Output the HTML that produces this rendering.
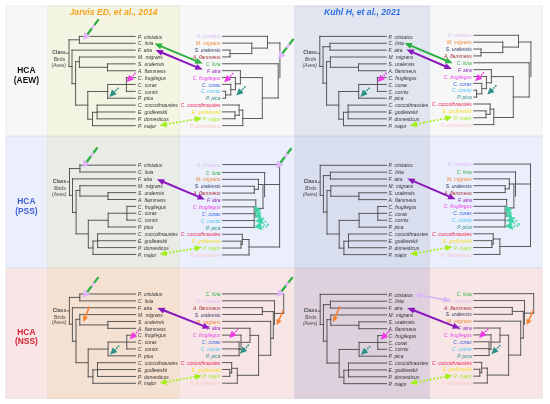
<!DOCTYPE html>
<html lang="en"><head><meta charset="utf-8"><title>HCA vs reference phylogenies</title>
<style>html,body{margin:0;padding:0;background:#fff}body{width:550px;height:404px;overflow:hidden}svg{display:block}text{font-family:"Liberation Sans",Arial,sans-serif}.sp{font-style:italic;font-size:4.9px;word-spacing:.5px}.sr{font-style:italic;font-size:4.98px;text-anchor:end}.cl{font-size:5.05px;fill:#4a4a4a}.hd{font-weight:bold;font-style:italic;font-size:8.67px}.rl{font-weight:bold;font-size:8.4px;text-anchor:middle}</style></head><body>
<svg width="550" height="404" viewBox="0 0 550 404">
<rect width="550" height="404" fill="#fff"/>
<rect x="5.50" y="5.50" width="41.70" height="130.50" fill="#f7f7f7"/>
<rect x="47.20" y="5.50" width="132.60" height="130.50" fill="#f4f4e3"/>
<rect x="179.80" y="5.50" width="114.60" height="130.50" fill="#f7f7f7"/>
<rect x="294.40" y="5.50" width="135.40" height="130.50" fill="#e1e5f0"/>
<rect x="429.80" y="5.50" width="112.70" height="130.50" fill="#f7f7f7"/>
<rect x="5.50" y="136.00" width="41.70" height="132.00" fill="#ebeefb"/>
<rect x="47.20" y="136.00" width="132.60" height="132.00" fill="#e9ebe5"/>
<rect x="179.80" y="136.00" width="114.60" height="132.00" fill="#ebeefb"/>
<rect x="294.40" y="136.00" width="135.40" height="132.00" fill="#d9deef"/>
<rect x="429.80" y="136.00" width="112.70" height="132.00" fill="#ebeefb"/>
<rect x="5.50" y="268.00" width="41.70" height="130.70" fill="#f8e6e7"/>
<rect x="47.20" y="268.00" width="132.60" height="130.70" fill="#f5e1d2"/>
<rect x="179.80" y="268.00" width="114.60" height="130.70" fill="#f8e6e7"/>
<rect x="294.40" y="268.00" width="135.40" height="130.70" fill="#ded1dd"/>
<rect x="429.80" y="268.00" width="112.70" height="130.70" fill="#f8e6e7"/>
<rect x="6.00" y="6.00" width="536.00" height="129.50" fill="none" stroke="#50506a" stroke-opacity="0.06" stroke-width="1"/>
<rect x="6.00" y="136.50" width="536.00" height="131.00" fill="none" stroke="#50506a" stroke-opacity="0.06" stroke-width="1"/>
<rect x="6.00" y="268.50" width="536.00" height="129.70" fill="none" stroke="#50506a" stroke-opacity="0.06" stroke-width="1"/>
<rect x="47.50" y="6.00" width="132.00" height="392.20" fill="none" stroke="#50506a" stroke-opacity="0.05" stroke-width="1"/>
<rect x="294.70" y="6.00" width="134.80" height="392.20" fill="none" stroke="#50506a" stroke-opacity="0.05" stroke-width="1"/>
<text class="hd" x="113.6" y="15.2" text-anchor="middle" fill="#f6a21e">Jarvis ED, et al., 2014</text>
<text class="hd" x="362.3" y="15.2" text-anchor="middle" fill="#2f6fe6">Kuhl H, et al., 2021</text>
<text class="rl" x="26.4" y="72.7" fill="#111">HCA</text>
<text class="rl" x="26.4" y="82.6" fill="#111">(AEW)</text>
<text class="rl" x="26.4" y="203.8" fill="#3f5fd8">HCA</text>
<text class="rl" x="26.4" y="213.7" fill="#3f5fd8">(PSS)</text>
<text class="rl" x="26.4" y="334.5" fill="#d3202f">HCA</text>
<text class="rl" x="26.4" y="344.4" fill="#d3202f">(NSS)</text>
<path d="M69.00 39.80L69.00 66.60M69.00 39.80L79.40 39.80M79.40 36.40L79.40 43.27M79.40 36.40L135.20 36.40M79.40 43.27L135.20 43.27M69.00 66.60L72.00 66.60M72.00 50.14L72.00 83.70M72.00 50.14L135.20 50.14M72.00 83.70L75.60 83.70M75.60 61.70L75.60 105.10M75.60 61.70L79.40 61.70M79.40 57.01L79.40 67.31M79.40 57.01L135.20 57.01M79.40 67.31L107.50 67.31M107.50 63.88L107.50 70.75M107.50 63.88L135.20 63.88M107.50 70.75L135.20 70.75M75.60 105.10L87.80 105.10M87.80 91.50L87.80 119.20M87.80 91.50L107.70 91.50M107.70 84.49L107.70 98.23M107.70 84.49L135.20 84.49M107.70 98.23L135.20 98.23M126.40 77.62L126.40 91.36M126.40 77.62L135.20 77.62M126.40 91.36L135.20 91.36M87.80 119.20L92.50 119.20M92.50 112.30L92.50 125.71M92.50 125.71L135.20 125.71M92.50 112.30L97.10 112.30M97.10 105.10L97.10 118.84M97.10 105.10L135.20 105.10M97.10 111.97L135.20 111.97M97.10 118.84L135.20 118.84" stroke="#484848" stroke-width="0.9" fill="none" stroke-linecap="square"/>
<path d="M222.60 36.30L267.50 36.30M267.50 36.30L267.50 48.10M267.50 43.00L279.90 43.00M279.90 43.00L279.90 77.60M222.60 43.17L251.80 43.17M251.80 43.17L251.80 53.60M251.80 48.10L267.50 48.10M222.60 50.04L230.00 50.04M222.60 56.91L230.00 56.91M230.00 50.04L230.00 56.91M230.00 53.60L251.80 53.60M222.60 63.78L278.20 63.78M278.20 63.78L278.20 98.00M262.30 98.00L278.20 98.00M262.30 77.60L262.30 118.50M222.60 70.65L240.40 70.65M240.40 70.65L240.40 83.80M240.40 77.60L262.30 77.60M222.60 77.52L235.40 77.52M235.40 77.52L235.40 89.70M235.40 83.80L240.40 83.80M222.60 84.39L230.80 84.39M230.80 84.39L230.80 94.90M230.80 89.70L235.40 89.70M222.60 91.26L225.60 91.26M222.60 98.13L225.60 98.13M225.60 91.26L225.60 98.13M225.60 94.90L230.80 94.90M222.60 105.00L239.10 105.00M239.10 105.00L239.10 115.30M239.10 110.10L242.80 110.10M242.80 110.10L242.80 125.61M222.60 125.61L242.80 125.61M242.80 118.50L262.30 118.50M222.60 111.87L235.00 111.87M222.60 118.74L235.00 118.74M235.00 111.87L235.00 118.74M235.00 115.30L239.10 115.30" stroke="#484848" stroke-width="0.9" fill="none" stroke-linecap="square"/>
<text class="cl" x="65.8" y="54.3" text-anchor="end" font-weight="bold" fill="#222">Class</text>
<path d="M66.40 53.20L68.80 53.20" stroke="#484848" stroke-width="0.9"/>
<text class="cl" x="65.2" y="60.9" text-anchor="end">Birds</text>
<text class="cl" x="66.0" y="66.7" text-anchor="end">(Aves)</text>
<text class="sp" x="138.1" y="38.55" fill="#2e2e2e">P. cristatus</text>
<text class="sp" x="138.1" y="45.42" fill="#2e2e2e">C. livia</text>
<text class="sp" x="138.1" y="52.29" fill="#2e2e2e">F. atra</text>
<text class="sp" x="138.1" y="59.16" fill="#2e2e2e">M. migrans</text>
<text class="sp" x="138.1" y="66.03" fill="#2e2e2e">S. uralensis</text>
<text class="sp" x="138.1" y="72.90" fill="#2e2e2e">A. flammeus</text>
<text class="sp" x="138.1" y="79.77" fill="#2e2e2e">C. frugilegus</text>
<text class="sp" x="138.1" y="86.64" fill="#2e2e2e">C. corax</text>
<text class="sp" x="138.1" y="93.51" fill="#2e2e2e">C. cornix</text>
<text class="sp" x="138.1" y="100.38" fill="#2e2e2e">P. pica</text>
<text class="sp" x="138.1" y="107.25" fill="#2e2e2e">C. coccothraustes</text>
<text class="sp" x="138.1" y="114.12" fill="#2e2e2e">E. godlewskii</text>
<text class="sp" x="138.1" y="120.99" fill="#2e2e2e">P. domesticus</text>
<text class="sp" x="138.1" y="127.86" fill="#2e2e2e">P. major</text>
<text class="sr" x="220.6" y="38.45" fill="#dcc0f5">P. cristatus</text>
<text class="sr" x="220.6" y="45.32" fill="#f0893a">M. migrans</text>
<text class="sr" x="220.6" y="52.19" fill="#2d3a66">S. uralensis</text>
<text class="sr" x="220.6" y="59.06" fill="#9c2630">A. flammeus</text>
<text class="sr" x="220.6" y="65.93" fill="#35b04a">C. livia</text>
<text class="sr" x="220.6" y="72.80" fill="#8a1fc0">F. atra</text>
<text class="sr" x="220.6" y="79.67" fill="#e93fe6">C. frugilegus</text>
<text class="sr" x="220.6" y="86.54" fill="#3a62e0">C. corax</text>
<text class="sr" x="220.6" y="93.41" fill="#45c3f2">C. cornix</text>
<text class="sr" x="220.6" y="100.28" fill="#2f9088">P. pica</text>
<text class="sr" x="220.6" y="107.15" fill="#e8204f">C. coccothraustes</text>
<text class="sr" x="220.6" y="114.02" fill="#f7e03a">E. godlewskii</text>
<text class="sr" x="220.6" y="120.89" fill="#a8ea30">P. major</text>
<text class="sr" x="220.6" y="127.76" fill="#f8c9cc">P. domesticus</text>
<g opacity="1"><path d="M165.71 124.35L195.89 119.10" stroke="#a4ee1e" stroke-width="1.8" fill="none" stroke-dasharray="1.8 1.7"/>
<path d="M202.00 118.04L195.65 122.39L194.56 116.09ZM159.60 125.41L165.95 121.06L167.04 127.36Z" fill="#a4ee1e"/></g>
<g opacity="1"><path d="M161.60 52.53L196.60 67.07" stroke="#8a18bd" stroke-width="2.0" fill="none"/>
<path d="M202.70 69.60L194.68 69.63L197.05 63.90ZM155.50 50.00L163.52 49.97L161.15 55.70Z" fill="#8a18bd"/></g>
<g opacity="1"><path d="M160.60 46.13L196.60 61.07" stroke="#2fb044" stroke-width="2.0" fill="none"/>
<path d="M202.70 63.60L194.68 63.63L197.05 57.90ZM154.50 43.60L162.52 43.57L160.15 49.30Z" fill="#2fb044"/></g>
<path d="M126.50 82.00L129.12 74.72L133.78 79.38Z" fill="#f03be8"/>
<path d="M131.10 77.40L131.94 76.56" stroke="#f03be8" stroke-width="1.7"/>
<circle cx="133.22" cy="75.28" r="0.9" fill="#f03be8"/>
<circle cx="134.99" cy="73.51" r="0.9" fill="#f03be8"/>
<path d="M109.40 96.90L112.02 89.62L116.68 94.28Z" fill="#2f9088"/>
<path d="M114.00 92.30L114.84 91.46" stroke="#2f9088" stroke-width="1.7"/>
<circle cx="116.12" cy="90.18" r="0.9" fill="#2f9088"/>
<circle cx="117.89" cy="88.41" r="0.9" fill="#2f9088"/>
<path d="M224.10 82.30L226.72 75.02L231.38 79.68Z" fill="#f03be8"/>
<path d="M228.70 77.70L229.54 76.86" stroke="#f03be8" stroke-width="1.7"/>
<circle cx="230.82" cy="75.58" r="0.9" fill="#f03be8"/>
<circle cx="232.59" cy="73.81" r="0.9" fill="#f03be8"/>
<path d="M236.30 95.50L238.92 88.22L243.58 92.88Z" fill="#2f9088"/>
<path d="M240.90 90.90L241.74 90.06" stroke="#2f9088" stroke-width="1.7"/>
<circle cx="243.02" cy="88.78" r="0.9" fill="#2f9088"/>
<circle cx="244.79" cy="87.01" r="0.9" fill="#2f9088"/>
<path d="M319.80 36.40L319.80 66.50M319.80 36.40L386.20 36.40M319.80 66.50L323.00 66.50M323.00 46.70L323.00 83.20M323.00 46.70L330.00 46.70M330.00 43.27L330.00 50.14M330.00 43.27L386.20 43.27M330.00 50.14L386.20 50.14M323.00 83.20L326.60 83.20M326.60 61.70L326.60 105.10M326.60 61.70L330.40 61.70M330.40 57.01L330.40 67.31M330.40 57.01L386.20 57.01M330.40 67.31L358.50 67.31M358.50 63.88L358.50 70.75M358.50 63.88L386.20 63.88M358.50 70.75L386.20 70.75M326.60 105.10L338.80 105.10M338.80 91.50L338.80 119.20M338.80 91.50L358.70 91.50M358.70 84.49L358.70 98.23M358.70 84.49L386.20 84.49M358.70 98.23L386.20 98.23M377.40 77.62L377.40 91.36M377.40 77.62L386.20 77.62M377.40 91.36L386.20 91.36M338.80 119.20L343.50 119.20M343.50 112.30L343.50 125.71M343.50 125.71L386.20 125.71M343.50 112.30L348.10 112.30M348.10 105.10L348.10 118.84M348.10 105.10L386.20 105.10M348.10 111.97L386.20 111.97M348.10 118.84L386.20 118.84" stroke="#484848" stroke-width="0.9" fill="none" stroke-linecap="square"/>
<path d="M473.80 35.30L518.50 35.30M518.50 35.30L518.50 47.10M518.50 42.00L530.90 42.00M530.90 42.00L530.90 76.60M473.80 42.17L502.80 42.17M502.80 42.17L502.80 52.60M502.80 47.10L518.50 47.10M473.80 49.04L481.00 49.04M473.80 55.91L481.00 55.91M481.00 49.04L481.00 55.91M481.00 52.60L502.80 52.60M473.80 62.78L529.20 62.78M529.20 62.78L529.20 97.00M513.30 97.00L529.20 97.00M513.30 76.60L513.30 117.50M473.80 69.65L491.40 69.65M491.40 69.65L491.40 82.80M491.40 76.60L513.30 76.60M473.80 76.52L486.40 76.52M486.40 76.52L486.40 88.70M486.40 82.80L491.40 82.80M473.80 83.39L481.80 83.39M481.80 83.39L481.80 93.90M481.80 88.70L486.40 88.70M473.80 90.26L476.60 90.26M473.80 97.13L476.60 97.13M476.60 90.26L476.60 97.13M476.60 93.90L481.80 93.90M473.80 104.00L490.10 104.00M490.10 104.00L490.10 114.30M490.10 109.10L493.80 109.10M493.80 109.10L493.80 124.61M473.80 124.61L493.80 124.61M493.80 117.50L513.30 117.50M473.80 110.87L486.00 110.87M473.80 117.74L486.00 117.74M486.00 110.87L486.00 117.74M486.00 114.30L490.10 114.30" stroke="#484848" stroke-width="0.9" fill="none" stroke-linecap="square"/>
<text class="cl" x="316.8" y="54.3" text-anchor="end" font-weight="bold" fill="#222">Class</text>
<path d="M317.40 53.20L319.80 53.20" stroke="#484848" stroke-width="0.9"/>
<text class="cl" x="316.2" y="60.9" text-anchor="end" font-style="italic">Birds</text>
<text class="cl" x="317.0" y="66.7" text-anchor="end" font-style="italic">(Aves)</text>
<text class="sp" x="388.6" y="38.55" fill="#2e2e2e">P. cristatus</text>
<text class="sp" x="388.6" y="45.42" fill="#2e2e2e">C. livia</text>
<text class="sp" x="388.6" y="52.29" fill="#2e2e2e">F. atra</text>
<text class="sp" x="388.6" y="59.16" fill="#2e2e2e">M. migrans</text>
<text class="sp" x="388.6" y="66.03" fill="#2e2e2e">S. uralensis</text>
<text class="sp" x="388.6" y="72.90" fill="#2e2e2e">A. flammeus</text>
<text class="sp" x="388.6" y="79.77" fill="#2e2e2e">C. frugilegus</text>
<text class="sp" x="388.6" y="86.64" fill="#2e2e2e">C. corax</text>
<text class="sp" x="388.6" y="93.51" fill="#2e2e2e">C. cornix</text>
<text class="sp" x="388.6" y="100.38" fill="#2e2e2e">P. pica</text>
<text class="sp" x="388.6" y="107.25" fill="#2e2e2e">C. coccothraustes</text>
<text class="sp" x="388.6" y="114.12" fill="#2e2e2e">E. godlewskii</text>
<text class="sp" x="388.6" y="120.99" fill="#2e2e2e">P. domesticus</text>
<text class="sp" x="388.6" y="127.86" fill="#2e2e2e">P. major</text>
<text class="sr" x="471.7" y="37.45" fill="#dcc0f5">P. cristatus</text>
<text class="sr" x="471.7" y="44.32" fill="#f0893a">M. migrans</text>
<text class="sr" x="471.7" y="51.19" fill="#2d3a66">S. uralensis</text>
<text class="sr" x="471.7" y="58.06" fill="#9c2630">A. flammeus</text>
<text class="sr" x="471.7" y="64.93" fill="#35b04a">C. livia</text>
<text class="sr" x="471.7" y="71.80" fill="#8a1fc0">F. atra</text>
<text class="sr" x="471.7" y="78.67" fill="#e93fe6">C. frugilegus</text>
<text class="sr" x="471.7" y="85.54" fill="#3a62e0">C. corax</text>
<text class="sr" x="471.7" y="92.41" fill="#45c3f2">C. cornix</text>
<text class="sr" x="471.7" y="99.28" fill="#2f9088">P. pica</text>
<text class="sr" x="471.7" y="106.15" fill="#e8204f">C. coccothraustes</text>
<text class="sr" x="471.7" y="113.02" fill="#f7e03a">E. godlewskii</text>
<text class="sr" x="471.7" y="119.89" fill="#a8ea30">P. major</text>
<text class="sr" x="471.7" y="126.76" fill="#f8c9cc">P. domesticus</text>
<g opacity="1"><path d="M416.08 124.21L446.32 118.24" stroke="#a4ee1e" stroke-width="1.8" fill="none" stroke-dasharray="1.8 1.7"/>
<path d="M452.40 117.04L446.15 121.54L444.91 115.26ZM410.00 125.41L416.25 120.91L417.49 127.19Z" fill="#a4ee1e"/></g>
<g opacity="1"><path d="M412.46 52.12L445.74 66.48" stroke="#8a18bd" stroke-width="2.0" fill="none"/>
<path d="M451.80 69.10L443.78 69.01L446.23 63.32ZM406.40 49.50L414.42 49.59L411.97 55.28Z" fill="#8a18bd"/></g>
<g opacity="1"><path d="M410.59 45.65L446.61 60.75" stroke="#2fb044" stroke-width="2.0" fill="none"/>
<path d="M452.70 63.30L444.68 63.30L447.07 57.58ZM404.50 43.10L412.52 43.10L410.13 48.82Z" fill="#2fb044"/></g>
<path d="M377.50 82.00L380.12 74.72L384.78 79.38Z" fill="#f03be8"/>
<path d="M382.10 77.40L382.94 76.56" stroke="#f03be8" stroke-width="1.7"/>
<circle cx="384.22" cy="75.28" r="0.9" fill="#f03be8"/>
<circle cx="385.99" cy="73.51" r="0.9" fill="#f03be8"/>
<path d="M360.40 96.90L363.02 89.62L367.68 94.28Z" fill="#2f9088"/>
<path d="M365.00 92.30L365.84 91.46" stroke="#2f9088" stroke-width="1.7"/>
<circle cx="367.12" cy="90.18" r="0.9" fill="#2f9088"/>
<circle cx="368.89" cy="88.41" r="0.9" fill="#2f9088"/>
<path d="M475.10 81.30L477.72 74.02L482.38 78.68Z" fill="#f03be8"/>
<path d="M479.70 76.70L480.54 75.86" stroke="#f03be8" stroke-width="1.7"/>
<circle cx="481.82" cy="74.58" r="0.9" fill="#f03be8"/>
<circle cx="483.59" cy="72.81" r="0.9" fill="#f03be8"/>
<path d="M487.30 94.50L489.92 87.22L494.58 91.88Z" fill="#2f9088"/>
<path d="M491.90 89.90L492.74 89.06" stroke="#2f9088" stroke-width="1.7"/>
<circle cx="494.02" cy="87.78" r="0.9" fill="#2f9088"/>
<circle cx="495.79" cy="86.01" r="0.9" fill="#2f9088"/>
<path d="M69.50 168.55L69.50 195.35M69.50 168.55L79.90 168.55M79.90 165.15L79.90 172.02M79.90 165.15L135.70 165.15M79.90 172.02L135.70 172.02M69.50 195.35L72.50 195.35M72.50 178.89L72.50 212.45M72.50 178.89L135.70 178.89M72.50 212.45L76.10 212.45M76.10 190.45L76.10 233.85M76.10 190.45L79.90 190.45M79.90 185.76L79.90 196.06M79.90 185.76L135.70 185.76M79.90 196.06L108.00 196.06M108.00 192.63L108.00 199.50M108.00 192.63L135.70 192.63M108.00 199.50L135.70 199.50M76.10 233.85L88.30 233.85M88.30 220.25L88.30 247.95M88.30 220.25L108.20 220.25M108.20 213.24L108.20 226.98M108.20 213.24L135.70 213.24M108.20 226.98L135.70 226.98M126.90 206.37L126.90 220.11M126.90 206.37L135.70 206.37M126.90 220.11L135.70 220.11M88.30 247.95L93.00 247.95M93.00 241.05L93.00 254.46M93.00 254.46L135.70 254.46M93.00 241.05L97.60 241.05M97.60 233.85L97.60 247.59M97.60 233.85L135.70 233.85M97.60 240.72L135.70 240.72M97.60 247.59L135.70 247.59" stroke="#484848" stroke-width="0.9" fill="none" stroke-linecap="square"/>
<path d="M222.60 164.60L279.60 164.60M279.60 164.60L279.60 247.00M222.60 172.47L264.60 172.47M264.60 172.47L264.60 196.80M264.60 184.50L279.60 184.50M222.60 179.34L258.40 179.34M258.40 179.34L258.40 189.30M258.40 184.50L263.00 184.50M263.00 184.50L263.00 208.40M222.60 186.21L254.30 186.21M222.60 193.08L254.30 193.08M254.30 186.21L254.30 193.08M254.30 189.30L258.40 189.30M222.60 199.95L255.80 199.95M255.80 199.95L255.80 217.00M255.80 208.40L263.00 208.40M222.60 206.82L254.20 206.82M222.60 213.69L254.20 213.69M222.60 220.56L254.20 220.56M222.60 227.43L254.20 227.43M254.20 206.82L254.20 227.43M222.60 234.30L242.30 234.30M242.30 234.30L242.30 244.50M242.30 239.50L249.00 239.50M222.60 241.17L241.00 241.17M222.60 248.04L241.00 248.04M241.00 241.17L241.00 248.04M241.00 244.50L242.30 244.50M249.00 239.50L249.00 254.91M222.60 254.91L249.00 254.91M249.00 247.00L279.60 247.00" stroke="#484848" stroke-width="0.9" fill="none" stroke-linecap="square"/>
<text class="cl" x="66.3" y="183.1" text-anchor="end" font-weight="bold" fill="#222">Class</text>
<path d="M66.90 181.95L69.30 181.95" stroke="#484848" stroke-width="0.9"/>
<text class="cl" x="65.7" y="189.7" text-anchor="end">Birds</text>
<text class="cl" x="66.5" y="195.5" text-anchor="end">(Aves)</text>
<text class="sp" x="138.1" y="167.30" fill="#2e2e2e">P. cristatus</text>
<text class="sp" x="138.1" y="174.17" fill="#2e2e2e">C. livia</text>
<text class="sp" x="138.1" y="181.04" fill="#2e2e2e">F. atra</text>
<text class="sp" x="138.1" y="187.91" fill="#2e2e2e">M. migrans</text>
<text class="sp" x="138.1" y="194.78" fill="#2e2e2e">S. uralensis</text>
<text class="sp" x="138.1" y="201.65" fill="#2e2e2e">A. flammeus</text>
<text class="sp" x="138.1" y="208.52" fill="#2e2e2e">C. frugilegus</text>
<text class="sp" x="138.1" y="215.39" fill="#2e2e2e">C. corax</text>
<text class="sp" x="138.1" y="222.26" fill="#2e2e2e">C. cornix</text>
<text class="sp" x="138.1" y="229.13" fill="#2e2e2e">P. pica</text>
<text class="sp" x="138.1" y="236.00" fill="#2e2e2e">C. coccothraustes</text>
<text class="sp" x="138.1" y="242.87" fill="#2e2e2e">E. godlewskii</text>
<text class="sp" x="138.1" y="249.74" fill="#2e2e2e">P. domesticus</text>
<text class="sp" x="138.1" y="256.61" fill="#2e2e2e">P. major</text>
<text class="sr" x="220.6" y="166.75" fill="#dcc0f5">P. cristatus</text>
<text class="sr" x="220.6" y="174.62" fill="#35b04a">C. livia</text>
<text class="sr" x="220.6" y="181.49" fill="#f0893a">M. migrans</text>
<text class="sr" x="220.6" y="188.36" fill="#2d3a66">S. uralensis</text>
<text class="sr" x="220.6" y="195.23" fill="#9c2630">A. flammeus</text>
<text class="sr" x="220.6" y="202.10" fill="#8a1fc0">F. atra</text>
<text class="sr" x="220.6" y="208.97" fill="#e93fe6">C. frugilegus</text>
<text class="sr" x="220.6" y="215.84" fill="#3a62e0">C. corax</text>
<text class="sr" x="220.6" y="222.71" fill="#45c3f2">C. cornix</text>
<text class="sr" x="220.6" y="229.58" fill="#2f9088">P. pica</text>
<text class="sr" x="220.6" y="236.45" fill="#e8204f">C. coccothraustes</text>
<text class="sr" x="220.6" y="243.32" fill="#f7e03a">E. godlewskii</text>
<text class="sr" x="220.6" y="250.19" fill="#a8ea30">P. major</text>
<text class="sr" x="220.6" y="257.06" fill="#f8c9cc">P. domesticus</text>
<g opacity="1"><path d="M165.72 253.18L195.88 248.32" stroke="#a4ee1e" stroke-width="1.8" fill="none" stroke-dasharray="1.8 1.7"/>
<path d="M202.00 247.34L195.60 251.61L194.58 245.29ZM159.60 254.16L166.00 249.89L167.02 256.21Z" fill="#a4ee1e"/></g>
<g opacity="1"><path d="M162.98 181.77L198.82 196.93" stroke="#8a18bd" stroke-width="2.0" fill="none"/>
<path d="M204.90 199.50L196.88 199.47L199.29 193.76ZM156.90 179.20L164.92 179.23L162.51 184.94Z" fill="#8a18bd"/></g>
<path d="M254.90 206.40L260.80 210.10L255.40 213.60ZM254.90 216.30L259.90 213.00L261.00 219.30ZM255.30 221.00L261.80 218.10L263.30 223.70ZM254.80 226.80L260.20 222.80L262.00 229.90ZM257.00 212.00L260.50 212.50L259.00 216.00ZM258.00 219.50L261.50 221.00L259.50 224.00Z" fill="#3fd6a8" stroke="#3fd6a8" stroke-width="0.7" stroke-linejoin="round"/>
<circle cx="263.30" cy="218.60" r="1.00" fill="#3fd6a8"/>
<circle cx="265.60" cy="221.40" r="1.00" fill="#3fd6a8"/>
<circle cx="267.90" cy="224.60" r="1.10" fill="#3fd6a8"/>
<circle cx="266.40" cy="226.60" r="1.00" fill="#3fd6a8"/>
<circle cx="263.40" cy="227.00" r="0.90" fill="#3fd6a8"/>
<circle cx="264.20" cy="224.60" r="0.80" fill="#3fd6a8"/>
<path d="M320.20 165.30L320.20 195.40M320.20 165.30L386.60 165.30M320.20 195.40L323.40 195.40M323.40 175.60L323.40 212.10M323.40 175.60L330.40 175.60M330.40 172.17L330.40 179.04M330.40 172.17L386.60 172.17M330.40 179.04L386.60 179.04M323.40 212.10L327.00 212.10M327.00 190.60L327.00 234.00M327.00 190.60L330.80 190.60M330.80 185.91L330.80 196.22M330.80 185.91L386.60 185.91M330.80 196.22L358.90 196.22M358.90 192.78L358.90 199.65M358.90 192.78L386.60 192.78M358.90 199.65L386.60 199.65M327.00 234.00L339.20 234.00M339.20 220.40L339.20 248.10M339.20 220.40L359.10 220.40M359.10 213.39L359.10 227.13M359.10 213.39L386.60 213.39M359.10 227.13L386.60 227.13M377.80 206.52L377.80 220.26M377.80 206.52L386.60 206.52M377.80 220.26L386.60 220.26M339.20 248.10L343.90 248.10M343.90 241.20L343.90 254.61M343.90 254.61L386.60 254.61M343.90 241.20L348.50 241.20M348.50 234.00L348.50 247.74M348.50 234.00L386.60 234.00M348.50 240.87L386.60 240.87M348.50 247.74L386.60 247.74" stroke="#484848" stroke-width="0.9" fill="none" stroke-linecap="square"/>
<path d="M473.80 164.10L530.50 164.10M530.50 164.10L530.50 246.50M473.80 171.97L515.50 171.97M515.50 171.97L515.50 196.30M515.50 184.00L530.50 184.00M473.80 178.84L509.30 178.84M509.30 178.84L509.30 188.80M509.30 184.00L513.90 184.00M513.90 184.00L513.90 207.90M473.80 185.71L505.20 185.71M473.80 192.58L505.20 192.58M505.20 185.71L505.20 192.58M505.20 188.80L509.30 188.80M473.80 199.45L506.70 199.45M506.70 199.45L506.70 216.50M506.70 207.90L513.90 207.90M473.80 206.32L505.10 206.32M473.80 213.19L505.10 213.19M473.80 220.06L505.10 220.06M473.80 226.93L505.10 226.93M505.10 206.32L505.10 226.93M473.80 233.80L493.20 233.80M493.20 233.80L493.20 244.00M493.20 239.00L499.90 239.00M473.80 240.67L491.90 240.67M473.80 247.54L491.90 247.54M491.90 240.67L491.90 247.54M491.90 244.00L493.20 244.00M499.90 239.00L499.90 254.41M473.80 254.41L499.90 254.41M499.90 246.50L530.50 246.50" stroke="#484848" stroke-width="0.9" fill="none" stroke-linecap="square"/>
<text class="cl" x="317.2" y="183.2" text-anchor="end" font-weight="bold" fill="#222">Class</text>
<path d="M317.80 182.10L320.20 182.10" stroke="#484848" stroke-width="0.9"/>
<text class="cl" x="316.6" y="189.8" text-anchor="end" font-style="italic">Birds</text>
<text class="cl" x="317.4" y="195.6" text-anchor="end" font-style="italic">(Aves)</text>
<text class="sp" x="388.6" y="167.45" fill="#2e2e2e">P. cristatus</text>
<text class="sp" x="388.6" y="174.32" fill="#2e2e2e">C. livia</text>
<text class="sp" x="388.6" y="181.19" fill="#2e2e2e">F. atra</text>
<text class="sp" x="388.6" y="188.06" fill="#2e2e2e">M. migrans</text>
<text class="sp" x="388.6" y="194.93" fill="#2e2e2e">S. uralensis</text>
<text class="sp" x="388.6" y="201.80" fill="#2e2e2e">A. flammeus</text>
<text class="sp" x="388.6" y="208.67" fill="#2e2e2e">C. frugilegus</text>
<text class="sp" x="388.6" y="215.54" fill="#2e2e2e">C. corax</text>
<text class="sp" x="388.6" y="222.41" fill="#2e2e2e">C. cornix</text>
<text class="sp" x="388.6" y="229.28" fill="#2e2e2e">P. pica</text>
<text class="sp" x="388.6" y="236.15" fill="#2e2e2e">C. coccothraustes</text>
<text class="sp" x="388.6" y="243.02" fill="#2e2e2e">E. godlewskii</text>
<text class="sp" x="388.6" y="249.89" fill="#2e2e2e">P. domesticus</text>
<text class="sp" x="388.6" y="256.76" fill="#2e2e2e">P. major</text>
<text class="sr" x="471.7" y="166.25" fill="#dcc0f5">P. cristatus</text>
<text class="sr" x="471.7" y="174.12" fill="#35b04a">C. livia</text>
<text class="sr" x="471.7" y="180.99" fill="#f0893a">M. migrans</text>
<text class="sr" x="471.7" y="187.86" fill="#2d3a66">S. uralensis</text>
<text class="sr" x="471.7" y="194.73" fill="#9c2630">A. flammeus</text>
<text class="sr" x="471.7" y="201.60" fill="#8a1fc0">F. atra</text>
<text class="sr" x="471.7" y="208.47" fill="#e93fe6">C. frugilegus</text>
<text class="sr" x="471.7" y="215.34" fill="#3a62e0">C. corax</text>
<text class="sr" x="471.7" y="222.21" fill="#45c3f2">C. cornix</text>
<text class="sr" x="471.7" y="229.08" fill="#2f9088">P. pica</text>
<text class="sr" x="471.7" y="235.95" fill="#e8204f">C. coccothraustes</text>
<text class="sr" x="471.7" y="242.82" fill="#f7e03a">E. godlewskii</text>
<text class="sr" x="471.7" y="249.69" fill="#a8ea30">P. major</text>
<text class="sr" x="471.7" y="256.56" fill="#f8c9cc">P. domesticus</text>
<g opacity="1"><path d="M416.11 253.23L446.29 247.92" stroke="#a4ee1e" stroke-width="1.8" fill="none" stroke-dasharray="1.8 1.7"/>
<path d="M452.40 246.84L446.06 251.21L444.95 244.90ZM410.00 254.31L416.34 249.94L417.45 256.25Z" fill="#a4ee1e"/></g>
<g opacity="1"><path d="M413.37 181.19L449.43 196.61" stroke="#8a18bd" stroke-width="2.0" fill="none"/>
<path d="M455.50 199.20L447.48 199.14L449.91 193.44ZM407.30 178.60L415.32 178.66L412.89 184.36Z" fill="#8a18bd"/></g>
<path d="M505.80 205.90L511.70 209.60L506.30 213.10ZM505.80 215.80L510.80 212.50L511.90 218.80ZM506.20 220.50L512.70 217.60L514.20 223.20ZM505.70 226.30L511.10 222.30L512.90 229.40ZM507.90 211.50L511.40 212.00L509.90 215.50ZM508.90 219.00L512.40 220.50L510.40 223.50Z" fill="#3fd6a8" stroke="#3fd6a8" stroke-width="0.7" stroke-linejoin="round"/>
<circle cx="514.20" cy="218.10" r="1.00" fill="#3fd6a8"/>
<circle cx="516.50" cy="220.90" r="1.00" fill="#3fd6a8"/>
<circle cx="518.80" cy="224.10" r="1.10" fill="#3fd6a8"/>
<circle cx="517.30" cy="226.10" r="1.00" fill="#3fd6a8"/>
<circle cx="514.30" cy="226.50" r="0.90" fill="#3fd6a8"/>
<circle cx="515.10" cy="224.10" r="0.80" fill="#3fd6a8"/>
<path d="M69.40 297.40L69.40 324.20M69.40 297.40L79.80 297.40M79.80 294.00L79.80 300.87M79.80 294.00L135.60 294.00M79.80 300.87L135.60 300.87M69.40 324.20L72.40 324.20M72.40 307.74L72.40 341.30M72.40 307.74L135.60 307.74M72.40 341.30L76.00 341.30M76.00 319.30L76.00 362.70M76.00 319.30L79.80 319.30M79.80 314.61L79.80 324.92M79.80 314.61L135.60 314.61M79.80 324.92L107.90 324.92M107.90 321.48L107.90 328.35M107.90 321.48L135.60 321.48M107.90 328.35L135.60 328.35M76.00 362.70L88.20 362.70M88.20 349.10L88.20 376.80M88.20 349.10L108.10 349.10M108.10 342.09L108.10 355.83M108.10 342.09L135.60 342.09M108.10 355.83L135.60 355.83M126.80 335.22L126.80 348.96M126.80 335.22L135.60 335.22M126.80 348.96L135.60 348.96M88.20 376.80L92.90 376.80M92.90 369.90L92.90 383.31M92.90 383.31L135.60 383.31M92.90 369.90L97.50 369.90M97.50 362.70L97.50 376.44M97.50 362.70L135.60 362.70M97.50 369.57L135.60 369.57M97.50 376.44L135.60 376.44" stroke="#484848" stroke-width="0.9" fill="none" stroke-linecap="square"/>
<path d="M222.60 293.90L283.70 293.90M283.70 293.90L283.70 313.40M274.50 313.40L283.70 313.40M222.60 300.77L274.50 300.77M274.50 300.77L274.50 324.50M222.60 307.64L262.30 307.64M222.60 314.51L262.30 314.51M262.30 307.64L262.30 314.51M262.30 311.60L273.30 311.60M273.30 311.60L273.30 338.30M270.70 338.30L273.30 338.30M222.60 321.38L270.70 321.38M270.70 321.38L270.70 355.30M258.60 355.30L270.70 355.30M258.60 335.40L258.60 375.30M222.60 328.25L250.00 328.25M250.00 328.25L250.00 342.30M250.00 335.40L258.60 335.40M222.60 335.12L241.00 335.12M241.00 335.12L241.00 349.50M241.00 342.30L250.00 342.30M222.60 341.99L239.10 341.99M222.60 348.86L239.10 348.86M222.60 355.73L239.10 355.73M239.10 341.99L239.10 355.73M239.10 349.50L241.00 349.50M222.60 362.60L231.70 362.60M231.70 362.60L231.70 372.90M231.70 368.30L237.30 368.30M222.60 369.47L229.80 369.47M222.60 376.34L229.80 376.34M229.80 369.47L229.80 376.34M229.80 372.90L231.70 372.90M237.30 368.30L237.30 383.21M222.60 383.21L237.30 383.21M237.30 375.30L258.60 375.30" stroke="#484848" stroke-width="0.9" fill="none" stroke-linecap="square"/>
<text class="cl" x="66.2" y="311.9" text-anchor="end" font-weight="bold" fill="#222">Class</text>
<path d="M66.80 310.80L69.20 310.80" stroke="#484848" stroke-width="0.9"/>
<text class="cl" x="65.6" y="318.5" text-anchor="end">Birds</text>
<text class="cl" x="66.4" y="324.3" text-anchor="end">(Aves)</text>
<text class="sp" x="138.1" y="296.15" fill="#2e2e2e">P. cristatus</text>
<text class="sp" x="138.1" y="303.02" fill="#2e2e2e">C. livia</text>
<text class="sp" x="138.1" y="309.89" fill="#2e2e2e">F. atra</text>
<text class="sp" x="138.1" y="316.76" fill="#2e2e2e">M. migrans</text>
<text class="sp" x="138.1" y="323.63" fill="#2e2e2e">S. uralensis</text>
<text class="sp" x="138.1" y="330.50" fill="#2e2e2e">A. flammeus</text>
<text class="sp" x="138.1" y="337.37" fill="#2e2e2e">C. frugilegus</text>
<text class="sp" x="138.1" y="344.24" fill="#2e2e2e">C. corax</text>
<text class="sp" x="138.1" y="351.11" fill="#2e2e2e">C. cornix</text>
<text class="sp" x="138.1" y="357.98" fill="#2e2e2e">P. pica</text>
<text class="sp" x="138.1" y="364.85" fill="#2e2e2e">C. coccothraustes</text>
<text class="sp" x="138.1" y="371.72" fill="#2e2e2e">E. godlewskii</text>
<text class="sp" x="138.1" y="378.59" fill="#2e2e2e">P. domesticus</text>
<text class="sp" x="138.1" y="385.46" fill="#2e2e2e">P. major</text>
<text class="sr" x="220.6" y="296.05" fill="#35b04a">C. livia</text>
<text class="sr" x="220.6" y="302.92" fill="#dcc0f5">P. cristatus</text>
<text class="sr" x="220.6" y="309.79" fill="#9c2630">A. flammeus</text>
<text class="sr" x="220.6" y="316.66" fill="#2d3a66">S. uralensis</text>
<text class="sr" x="220.6" y="323.53" fill="#f0893a">M. migrans</text>
<text class="sr" x="220.6" y="330.40" fill="#8a1fc0">F. atra</text>
<text class="sr" x="220.6" y="337.27" fill="#e93fe6">C. frugilegus</text>
<text class="sr" x="220.6" y="344.14" fill="#3a62e0">C. corax</text>
<text class="sr" x="220.6" y="351.01" fill="#45c3f2">C. cornix</text>
<text class="sr" x="220.6" y="357.88" fill="#2f9088">P. pica</text>
<text class="sr" x="220.6" y="364.75" fill="#e8204f">C. coccothraustes</text>
<text class="sr" x="220.6" y="371.62" fill="#f7e03a">E. godlewskii</text>
<text class="sr" x="220.6" y="378.49" fill="#a8ea30">P. major</text>
<text class="sr" x="220.6" y="385.36" fill="#f8c9cc">P. domesticus</text>
<g opacity="1"><path d="M165.71 381.95L195.89 376.70" stroke="#a4ee1e" stroke-width="1.8" fill="none" stroke-dasharray="1.8 1.7"/>
<path d="M202.00 375.64L195.65 379.99L194.56 373.69ZM159.60 383.01L165.95 378.66L167.04 384.96Z" fill="#a4ee1e"/></g>
<g opacity="1"><path d="M163.45 310.30L203.85 326.10" stroke="#8a18bd" stroke-width="2.0" fill="none"/>
<path d="M210.00 328.50L201.98 328.69L204.24 322.92ZM157.30 307.90L165.32 307.71L163.06 313.48Z" fill="#8a18bd"/></g>
<path d="M129.70 339.30L132.32 332.02L136.98 336.68Z" fill="#f03be8"/>
<path d="M134.30 334.70L135.14 333.86" stroke="#f03be8" stroke-width="1.7"/>
<circle cx="136.42" cy="332.58" r="0.9" fill="#f03be8"/>
<circle cx="138.19" cy="330.81" r="0.9" fill="#f03be8"/>
<path d="M110.10 354.70L112.72 347.42L117.38 352.08Z" fill="#2f9088"/>
<path d="M114.70 350.10L115.54 349.26" stroke="#2f9088" stroke-width="1.7"/>
<circle cx="116.82" cy="347.98" r="0.9" fill="#2f9088"/>
<circle cx="118.59" cy="346.21" r="0.9" fill="#2f9088"/>
<path d="M229.10 338.10L231.72 330.82L236.38 335.48Z" fill="#f03be8"/>
<path d="M233.70 333.50L234.54 332.66" stroke="#f03be8" stroke-width="1.7"/>
<circle cx="235.82" cy="331.38" r="0.9" fill="#f03be8"/>
<circle cx="237.59" cy="329.61" r="0.9" fill="#f03be8"/>
<path d="M239.80 353.70L242.42 346.42L247.08 351.08Z" fill="#2f9088"/>
<path d="M244.40 349.10L245.24 348.26" stroke="#2f9088" stroke-width="1.7"/>
<circle cx="246.52" cy="346.98" r="0.9" fill="#2f9088"/>
<circle cx="248.29" cy="345.21" r="0.9" fill="#2f9088"/>
<path d="M320.20 294.35L320.20 324.45M320.20 294.35L386.60 294.35M320.20 324.45L323.40 324.45M323.40 304.65L323.40 341.15M323.40 304.65L330.40 304.65M330.40 301.22L330.40 308.09M330.40 301.22L386.60 301.22M330.40 308.09L386.60 308.09M323.40 341.15L327.00 341.15M327.00 319.65L327.00 363.05M327.00 319.65L330.80 319.65M330.80 314.96L330.80 325.26M330.80 314.96L386.60 314.96M330.80 325.26L358.90 325.26M358.90 321.83L358.90 328.70M358.90 321.83L386.60 321.83M358.90 328.70L386.60 328.70M327.00 363.05L339.20 363.05M339.20 349.45L339.20 377.15M339.20 349.45L359.10 349.45M359.10 342.44L359.10 356.18M359.10 342.44L386.60 342.44M359.10 356.18L386.60 356.18M377.80 335.57L377.80 349.31M377.80 335.57L386.60 335.57M377.80 349.31L386.60 349.31M339.20 377.15L343.90 377.15M343.90 370.25L343.90 383.66M343.90 383.66L386.60 383.66M343.90 370.25L348.50 370.25M348.50 363.05L348.50 376.79M348.50 363.05L386.60 363.05M348.50 369.92L386.60 369.92M348.50 376.79L386.60 376.79" stroke="#484848" stroke-width="0.9" fill="none" stroke-linecap="square"/>
<path d="M473.80 293.70L533.70 293.70M533.70 293.70L533.70 313.20M524.50 313.20L533.70 313.20M473.80 300.57L524.50 300.57M524.50 300.57L524.50 324.30M473.80 307.44L512.30 307.44M473.80 314.31L512.30 314.31M512.30 307.44L512.30 314.31M512.30 311.40L523.30 311.40M523.30 311.40L523.30 338.10M520.70 338.10L523.30 338.10M473.80 321.18L520.70 321.18M520.70 321.18L520.70 355.10M508.60 355.10L520.70 355.10M508.60 335.20L508.60 375.10M473.80 328.05L500.00 328.05M500.00 328.05L500.00 342.10M500.00 335.20L508.60 335.20M473.80 334.92L491.00 334.92M491.00 334.92L491.00 349.30M491.00 342.10L500.00 342.10M473.80 341.79L489.10 341.79M473.80 348.66L489.10 348.66M473.80 355.53L489.10 355.53M489.10 341.79L489.10 355.53M489.10 349.30L491.00 349.30M473.80 362.40L481.70 362.40M481.70 362.40L481.70 372.70M481.70 368.10L487.30 368.10M473.80 369.27L479.80 369.27M473.80 376.14L479.80 376.14M479.80 369.27L479.80 376.14M479.80 372.70L481.70 372.70M487.30 368.10L487.30 383.01M473.80 383.01L487.30 383.01M487.30 375.10L508.60 375.10" stroke="#484848" stroke-width="0.9" fill="none" stroke-linecap="square"/>
<text class="cl" x="317.2" y="312.2" text-anchor="end" font-weight="bold" fill="#222">Class</text>
<path d="M317.80 311.15L320.20 311.15" stroke="#484848" stroke-width="0.9"/>
<text class="cl" x="316.6" y="318.8" text-anchor="end" font-style="italic">Birds</text>
<text class="cl" x="317.4" y="324.6" text-anchor="end" font-style="italic">(Aves)</text>
<text class="sp" x="388.6" y="296.50" fill="#2e2e2e">P. cristatus</text>
<text class="sp" x="388.6" y="303.37" fill="#2e2e2e">C. livia</text>
<text class="sp" x="388.6" y="310.24" fill="#2e2e2e">F. atra</text>
<text class="sp" x="388.6" y="317.11" fill="#2e2e2e">M. migrans</text>
<text class="sp" x="388.6" y="323.98" fill="#2e2e2e">S. uralensis</text>
<text class="sp" x="388.6" y="330.85" fill="#2e2e2e">A. flammeus</text>
<text class="sp" x="388.6" y="337.72" fill="#2e2e2e">C. frugilegus</text>
<text class="sp" x="388.6" y="344.59" fill="#2e2e2e">C. corax</text>
<text class="sp" x="388.6" y="351.46" fill="#2e2e2e">C. cornix</text>
<text class="sp" x="388.6" y="358.33" fill="#2e2e2e">P. pica</text>
<text class="sp" x="388.6" y="365.20" fill="#2e2e2e">C. coccothraustes</text>
<text class="sp" x="388.6" y="372.07" fill="#2e2e2e">E. godlewskii</text>
<text class="sp" x="388.6" y="378.94" fill="#2e2e2e">P. domesticus</text>
<text class="sp" x="388.6" y="385.81" fill="#2e2e2e">P. major</text>
<text class="sr" x="471.7" y="295.85" fill="#35b04a">C. livia</text>
<text class="sr" x="471.7" y="302.72" fill="#dcc0f5">P. cristatus</text>
<text class="sr" x="471.7" y="309.59" fill="#9c2630">A. flammeus</text>
<text class="sr" x="471.7" y="316.46" fill="#2d3a66">S. uralensis</text>
<text class="sr" x="471.7" y="323.33" fill="#f0893a">M. migrans</text>
<text class="sr" x="471.7" y="330.20" fill="#8a1fc0">F. atra</text>
<text class="sr" x="471.7" y="337.07" fill="#e93fe6">C. frugilegus</text>
<text class="sr" x="471.7" y="343.94" fill="#3a62e0">C. corax</text>
<text class="sr" x="471.7" y="350.81" fill="#45c3f2">C. cornix</text>
<text class="sr" x="471.7" y="357.68" fill="#2f9088">P. pica</text>
<text class="sr" x="471.7" y="364.55" fill="#e8204f">C. coccothraustes</text>
<text class="sr" x="471.7" y="371.42" fill="#f7e03a">E. godlewskii</text>
<text class="sr" x="471.7" y="378.29" fill="#a8ea30">P. major</text>
<text class="sr" x="471.7" y="385.16" fill="#f8c9cc">P. domesticus</text>
<g opacity="1"><path d="M416.09 382.22L446.31 376.58" stroke="#a4ee1e" stroke-width="1.8" fill="none" stroke-dasharray="1.8 1.7"/>
<path d="M452.40 375.44L446.11 379.87L444.93 373.58ZM410.00 383.36L416.29 378.93L417.47 385.22Z" fill="#a4ee1e"/></g>
<g opacity="1"><path d="M413.45 310.30L453.85 326.10" stroke="#8a18bd" stroke-width="2.0" fill="none"/>
<path d="M460.00 328.50L451.98 328.69L454.24 322.92ZM407.30 307.90L415.32 307.71L413.06 313.48Z" fill="#8a18bd"/></g>
<path d="M380.70 339.65L383.32 332.37L387.98 337.03Z" fill="#f03be8"/>
<path d="M385.30 335.05L386.14 334.21" stroke="#f03be8" stroke-width="1.7"/>
<circle cx="387.42" cy="332.93" r="0.9" fill="#f03be8"/>
<circle cx="389.19" cy="331.16" r="0.9" fill="#f03be8"/>
<path d="M361.10 355.05L363.72 347.77L368.38 352.43Z" fill="#2f9088"/>
<path d="M365.70 350.45L366.54 349.61" stroke="#2f9088" stroke-width="1.7"/>
<circle cx="367.82" cy="348.33" r="0.9" fill="#2f9088"/>
<circle cx="369.59" cy="346.56" r="0.9" fill="#2f9088"/>
<path d="M479.10 337.90L481.72 330.62L486.38 335.28Z" fill="#f03be8"/>
<path d="M483.70 333.30L484.54 332.46" stroke="#f03be8" stroke-width="1.7"/>
<circle cx="485.82" cy="331.18" r="0.9" fill="#f03be8"/>
<circle cx="487.59" cy="329.41" r="0.9" fill="#f03be8"/>
<path d="M491.30 354.20L493.92 346.92L498.58 351.58Z" fill="#2f9088"/>
<path d="M495.90 349.60L496.74 348.76" stroke="#2f9088" stroke-width="1.7"/>
<circle cx="498.02" cy="347.48" r="0.9" fill="#2f9088"/>
<circle cx="499.79" cy="345.71" r="0.9" fill="#2f9088"/>
<path d="M98.70 19.40L94.36 25.12" stroke="#2fb044" stroke-width="2.3"/>
<path d="M94.36 25.12L91.85 28.43" stroke="#e2b4fb" stroke-width="2.3"/>
<path d="M91.85 28.43L87.29 34.44" stroke="#2fb044" stroke-width="2.3"/>
<path d="M83.30 39.70L84.30 31.93L90.52 36.64Z" fill="#e2b4fb"/>
<path d="M97.50 147.40L93.33 153.02" stroke="#2fb044" stroke-width="2.3"/>
<path d="M93.33 153.02L90.92 156.28" stroke="#e2b4fb" stroke-width="2.3"/>
<path d="M90.92 156.28L86.53 162.20" stroke="#2fb044" stroke-width="2.3"/>
<path d="M82.60 167.50L83.52 159.71L89.78 164.36Z" fill="#e2b4fb"/>
<path d="M98.50 277.10L94.13 282.86" stroke="#2fb044" stroke-width="2.3"/>
<path d="M94.13 282.86L91.60 286.19" stroke="#e2b4fb" stroke-width="2.3"/>
<path d="M91.60 286.19L86.99 292.24" stroke="#2fb044" stroke-width="2.3"/>
<path d="M83.00 297.50L84.01 289.73L90.22 294.45Z" fill="#e2b4fb"/>
<path d="M293.50 38.90L289.25 44.43" stroke="#2fb044" stroke-width="2.3"/>
<path d="M289.25 44.43L286.79 47.64" stroke="#e2b4fb" stroke-width="2.3"/>
<path d="M286.79 47.64L282.32 53.46" stroke="#2fb044" stroke-width="2.3"/>
<path d="M278.30 58.70L279.35 50.93L285.53 55.68Z" fill="#e2b4fb"/>
<path d="M291.50 148.10L287.24 153.74" stroke="#2fb044" stroke-width="2.3"/>
<path d="M287.24 153.74L284.77 157.00" stroke="#e2b4fb" stroke-width="2.3"/>
<path d="M284.77 157.00L280.28 162.94" stroke="#2fb044" stroke-width="2.3"/>
<path d="M276.30 168.20L277.29 160.42L283.51 165.13Z" fill="#e2b4fb"/>
<path d="M292.70 277.10L288.40 282.58" stroke="#2fb044" stroke-width="2.3"/>
<path d="M288.40 282.58L285.91 285.75" stroke="#e2b4fb" stroke-width="2.3"/>
<path d="M285.91 285.75L281.38 291.51" stroke="#2fb044" stroke-width="2.3"/>
<path d="M277.30 296.70L278.43 288.94L284.57 293.76Z" fill="#e2b4fb"/>
<path d="M89.30 306.60L85.19 317.33" stroke="#f58232" stroke-width="1.6" fill="none"/>
<path d="M83.40 322.00L82.86 315.58L88.09 317.59Z" fill="#f58232"/>
<path d="M340.00 306.20L334.99 317.71" stroke="#f58232" stroke-width="1.6" fill="none"/>
<path d="M333.00 322.30L332.74 315.86L337.88 318.10Z" fill="#f58232"/>
<path d="M283.50 310.00L278.75 320.54" stroke="#f58232" stroke-width="1.6" fill="none"/>
<path d="M276.70 325.10L276.53 318.66L281.63 320.96Z" fill="#f58232"/>
<path d="M533.50 310.00L528.75 320.54" stroke="#f58232" stroke-width="1.6" fill="none"/>
<path d="M526.70 325.10L526.53 318.66L531.63 320.96Z" fill="#f58232"/>
<g opacity="1"><path d="M420.30 295.31L444.40 299.69" stroke="#d9b8f5" stroke-width="1.9" fill="none"/>
<path d="M450.50 300.80L443.08 302.50L444.15 296.60ZM414.20 294.20L421.62 292.50L420.55 298.40Z" fill="#d9b8f5"/></g>
</svg></body></html>
